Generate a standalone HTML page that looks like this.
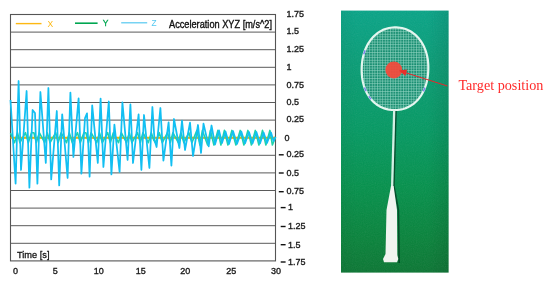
<!DOCTYPE html>
<html><head><meta charset="utf-8"><title>Figure</title>
<style>
html,body{margin:0;padding:0;background:#fff;}
body{width:550px;height:281px;overflow:hidden;}
svg{display:block;}
text{font-family:"Liberation Sans",sans-serif;}
.ax{font-size:9px;fill:#1a1a1a;stroke:#1a1a1a;stroke-width:0.35;}
.tp{font-family:"Liberation Serif",serif;font-size:14px;fill:#ff2a2a;}
</style></head><body>
<svg width="550" height="281" viewBox="0 0 550 281">
<defs>
<linearGradient id="gg" x1="0" y1="0" x2="0" y2="1">
<stop offset="0" stop-color="#08a487"/><stop offset="0.2" stop-color="#089d76"/><stop offset="0.46" stop-color="#049962"/><stop offset="0.67" stop-color="#04914c"/><stop offset="0.88" stop-color="#08823a"/><stop offset="1" stop-color="#0a7633"/>
</linearGradient>
<linearGradient id="vg" x1="0" y1="0" x2="1" y2="0">
<stop offset="0" stop-color="#000" stop-opacity="0.03"/><stop offset="0.15" stop-color="#000" stop-opacity="0"/><stop offset="0.8" stop-color="#000" stop-opacity="0"/><stop offset="1" stop-color="#000" stop-opacity="0.09"/>
</linearGradient>
<filter id="felt" x="0" y="0" width="100%" height="100%"><feTurbulence type="fractalNoise" baseFrequency="0.9" numOctaves="2" seed="3"/><feColorMatrix type="saturate" values="0"/></filter>
<pattern id="strings" width="2.6" height="2.6" patternUnits="userSpaceOnUse">
<rect width="2.6" height="2.6" fill="#178d70"/>
<path d="M0,0.5H2.6M0.5,0V2.6" stroke="#93d6c3" stroke-width="0.58"/>
</pattern>
</defs>
<rect width="550" height="281" fill="#fff"/>

<line x1="10.5" x2="275.5" y1="32.1" y2="32.1" stroke="#5a5a5a" stroke-width="1"/>
<line x1="10.5" x2="275.5" y1="49.7" y2="49.7" stroke="#5a5a5a" stroke-width="1"/>
<line x1="10.5" x2="275.5" y1="67.3" y2="67.3" stroke="#5a5a5a" stroke-width="1"/>
<line x1="10.5" x2="275.5" y1="84.9" y2="84.9" stroke="#5a5a5a" stroke-width="1"/>
<line x1="10.5" x2="275.5" y1="102.5" y2="102.5" stroke="#5a5a5a" stroke-width="1"/>
<line x1="10.5" x2="275.5" y1="120.1" y2="120.1" stroke="#5a5a5a" stroke-width="1"/>
<line x1="10.5" x2="275.5" y1="137.7" y2="137.7" stroke="#5a5a5a" stroke-width="1"/>
<line x1="10.5" x2="275.5" y1="155.3" y2="155.3" stroke="#5a5a5a" stroke-width="1"/>
<line x1="10.5" x2="275.5" y1="172.9" y2="172.9" stroke="#5a5a5a" stroke-width="1"/>
<line x1="10.5" x2="275.5" y1="190.5" y2="190.5" stroke="#5a5a5a" stroke-width="1"/>
<line x1="10.5" x2="275.5" y1="208.1" y2="208.1" stroke="#5a5a5a" stroke-width="1"/>
<line x1="10.5" x2="275.5" y1="225.7" y2="225.7" stroke="#5a5a5a" stroke-width="1"/>
<line x1="10.5" x2="275.5" y1="243.3" y2="243.3" stroke="#5a5a5a" stroke-width="1"/>
<rect x="10.5" y="14.5" width="265" height="246.4" fill="none" stroke="#555" stroke-width="1.1"/>
<line x1="10.5" x2="275.5" y1="137.7" y2="137.7" stroke="#f5b000" stroke-width="2"/>
<path d="M10.5,133 L14.5,142.7 L17.5,132.7 L19.9,142.7 L25.5,132.7 L28.3,142.7 L31.5,132.7 L33.9,132.7 L36.3,142.7 L39.3,132.7 L44.7,142.7 L47.3,132.7 L50.1,142.7 L55.7,132.7 L58.1,142.7 L61.1,132.7 L66.5,142.7 L69.3,132.7 L72.3,142.7 L77.5,132.7 L80.3,142.7 L83.9,132.7 L85.9,132.7 L88.5,142.7 L91.1,132.7 L96.7,142.7 L99.5,132.7 L102.3,142.7 L107.7,132.7 L110.3,142.7 L113.3,132.7 L118.5,142.7 L121.3,132.7 L126.5,142.7 L129.3,132.7 L131.9,142.7 L137.5,132.7 L140.3,142.7 L142.9,132.7 L148.3,142.7 L151.3,132.7 L153.7,140.0 L155.5,142.7 L159.3,132.7 L162.3,142.7 L167.5,132.7 L170.3,142.7 L172.9,132.7 L178.3,142.7 L180.9,132.7 L183.9,142.7 L188.9,132.7 L191.9,142.7 L196.9,130.4 L199.9,145.0 L202.4,130.4 L207.6,145.0 L210.4,130.4 L213.9,145.0 L217.9,130.4 L220.9,145.0 L224.4,130.4 L227.9,145.0 L231.9,130.4 L235.9,145.0 L240.2,130.4 L243.9,145.0 L247.9,130.4 L251.4,145.0 L255.3,130.4 L258.9,145.0 L262.5,130.4 L265.9,145.0 L269.9,130.4 L272.4,145.0 L275.5,137" fill="none" stroke="#1fd3aa" stroke-width="1.6" stroke-linejoin="round"/>
<path d="M10.5,100 L15.6,183.6 L18.6,81 L21,170 L26.6,91 L29.4,187.6 L32.6,110 L35,113 L37.4,183.6 L40.4,92 L45.8,163 L48.4,88 L51.2,179.4 L56.8,111 L59.2,185.4 L62.2,114.4 L67.6,178 L70.4,92.6 L73.4,157 L78.6,98.4 L81.4,173.6 L85,118 L87,113.4 L89.6,176.6 L92.2,105.4 L97.8,163 L100.6,98.6 L103.4,167 L108.8,101.5 L111.4,174.4 L114.4,124.6 L119.6,172 L122.4,102.4 L127.6,160 L130.4,104.4 L133,163 L138.6,114.4 L141.4,170 L144,115 L149.4,168 L152.4,107 L154.5,140 L156.6,147 L160.4,108 L163.4,160.6 L168.6,122.4 L171.4,165.6 L174,119 L179.4,148 L182,120.6 L185,150 L190,122.6 L193,156 L198,125 L201,153 L203.5,123.6 L208.7,146.4 L211.5,125.5 L215,144.5 L219,130.4 L222,143 L225.5,131.5 L229,144 L233,131 L237,144 L241.3,131.5 L245,143.5 L249,132 L252.5,143.5 L256.4,132 L260,143.5 L263.6,132.5 L267,143 L271,132.5 L273.5,141 L275.5,137" fill="none" stroke="#12bff2" stroke-width="1.75" stroke-linejoin="round"/>
<line x1="15.8" x2="41.5" y1="23.6" y2="23.6" stroke="#fdb813" stroke-width="1.4"/>
<text x="47.5" y="27.3" font-size="8.5" fill="#fdb813">X</text>
<line x1="75" x2="97.6" y1="23.2" y2="23.2" stroke="#00a651" stroke-width="1.6"/>
<text x="102.8" y="26" font-size="8.5" fill="#00a651" stroke="#00a651" stroke-width="0.3">Y</text>
<line x1="121.2" x2="147.2" y1="22.8" y2="22.8" stroke="#55c8f0" stroke-width="1.2"/>
<text x="151.6" y="26.2" font-size="8.3" fill="#55c8f0">Z</text>
<text x="169" y="27.5" font-size="10" fill="#111" stroke="#111" stroke-width="0.35" textLength="103" lengthAdjust="spacingAndGlyphs">Acceleration XYZ [m/s^2]</text>
<text x="17" y="258.3" font-size="9.6" fill="#111" stroke="#111" stroke-width="0.3" textLength="32.5" lengthAdjust="spacingAndGlyphs">Time [s]</text>
<text class="ax" x="286.5" y="16.50">1.75</text>
<text class="ax" x="286.5" y="34.35">1.5</text>
<text class="ax" x="286.5" y="52.15">1.25</text>
<text class="ax" x="286.5" y="70.45">1</text>
<text class="ax" x="286.5" y="87.55">0.75</text>
<text class="ax" x="286.5" y="104.75">0.5</text>
<text class="ax" x="286.5" y="121.55">0.25</text>
<text class="ax" x="284.4" y="141.45">0</text>
<text class="ax" x="286.5" y="157.45">0.25</text>
<rect x="278.8" y="154.1" width="4.9" height="1.4" fill="#111"/>
<text class="ax" x="286.5" y="175.95">0.5</text>
<rect x="278.8" y="172.3" width="4.9" height="1.4" fill="#111"/>
<text class="ax" x="286.5" y="193.85">0.75</text>
<rect x="278.8" y="191.0" width="4.9" height="1.4" fill="#111"/>
<text class="ax" x="288" y="210.45">1</text>
<rect x="280.7" y="206.9" width="4.9" height="1.4" fill="#111"/>
<text class="ax" x="288" y="229.45">1.25</text>
<rect x="280.7" y="225.8" width="4.9" height="1.4" fill="#111"/>
<text class="ax" x="288" y="247.65">1.5</text>
<rect x="280.7" y="244.0" width="4.9" height="1.4" fill="#111"/>
<text class="ax" x="288" y="264.55">1.75</text>
<rect x="280.7" y="261.3" width="4.9" height="1.4" fill="#111"/>
<text class="ax" x="15.5" y="273.9" text-anchor="middle">0</text>
<text class="ax" x="55.3" y="273.9" text-anchor="middle">5</text>
<text class="ax" x="98.8" y="273.9" text-anchor="middle">10</text>
<text class="ax" x="140.8" y="273.9" text-anchor="middle">15</text>
<text class="ax" x="185.3" y="273.9" text-anchor="middle">20</text>
<text class="ax" x="231.2" y="273.9" text-anchor="middle">25</text>
<text class="ax" x="276" y="273.9" text-anchor="middle">30</text>
<rect x="341" y="10.6" width="107.6" height="262" fill="url(#gg)"/>
<rect x="341" y="10.6" width="107.6" height="262" fill="url(#vg)"/>
<rect x="341" y="10.6" width="107.6" height="262" filter="url(#felt)" opacity="0.10"/>
<path d="M396,111 L393.9,186 L398.4,210 L399.2,263" fill="none" stroke="#043f24" stroke-width="1.6" opacity="0.8"/>
<path d="M428.28,69.8 L428.15,72.46 L427.94,74.85 L427.66,77.14 L427.29,79.36 L426.84,81.51 L426.3,83.6 L425.69,85.63 L425.0,87.59 L424.24,89.49 L423.39,91.33 L422.48,93.09 L421.49,94.79 L420.43,96.4 L419.31,97.94 L418.12,99.4 L416.86,100.78 L415.55,102.07 L414.18,103.26 L412.75,104.37 L411.27,105.39 L409.74,106.31 L408.15,107.13 L406.53,107.85 L404.86,108.47 L403.14,108.98 L401.38,109.39 L399.57,109.7 L397.71,109.9 L395.77,110.0 L393.63,109.98 L391.49,109.85 L389.57,109.63 L387.72,109.31 L385.94,108.88 L384.21,108.35 L382.53,107.72 L380.9,107.0 L379.33,106.17 L377.8,105.25 L376.34,104.23 L374.93,103.12 L373.57,101.92 L372.28,100.63 L371.06,99.26 L369.9,97.8 L368.81,96.27 L367.79,94.66 L366.84,92.97 L365.96,91.22 L365.17,89.4 L364.45,87.51 L363.81,85.56 L363.25,83.55 L362.78,81.49 L362.39,79.37 L362.08,77.19 L361.86,74.96 L361.72,72.65 L361.67,70.25 L361.72,67.6 L361.84,65.11 L362.05,62.8 L362.34,60.56 L362.72,58.37 L363.18,56.24 L363.72,54.16 L364.34,52.13 L365.05,50.16 L365.83,48.25 L366.69,46.41 L367.62,44.63 L368.63,42.91 L369.7,41.28 L370.85,39.71 L372.06,38.23 L373.33,36.84 L374.67,35.52 L376.06,34.3 L377.5,33.17 L378.99,32.14 L380.54,31.2 L382.13,30.36 L383.76,29.62 L385.43,28.99 L387.14,28.46 L388.88,28.03 L390.67,27.72 L392.49,27.51 L394.36,27.41 L396.37,27.42 L398.37,27.54 L400.24,27.77 L402.04,28.1 L403.8,28.53 L405.51,29.07 L407.18,29.71 L408.81,30.45 L410.39,31.3 L411.92,32.24 L413.39,33.28 L414.82,34.41 L416.18,35.63 L417.49,36.94 L418.73,38.34 L419.91,39.82 L421.02,41.38 L422.06,43.01 L423.02,44.72 L423.91,46.49 L424.73,48.33 L425.46,50.23 L426.12,52.19 L426.69,54.2 L427.18,56.26 L427.58,58.37 L427.9,60.53 L428.13,62.74 L428.27,64.99 L428.32,67.32Z" fill="url(#strings)"/>
<path d="M428.28,69.8 L428.15,72.46 L427.94,74.85 L427.66,77.14 L427.29,79.36 L426.84,81.51 L426.3,83.6 L425.69,85.63 L425.0,87.59 L424.24,89.49 L423.39,91.33 L422.48,93.09 L421.49,94.79 L420.43,96.4 L419.31,97.94 L418.12,99.4 L416.86,100.78 L415.55,102.07 L414.18,103.26 L412.75,104.37 L411.27,105.39 L409.74,106.31 L408.15,107.13 L406.53,107.85 L404.86,108.47 L403.14,108.98 L401.38,109.39 L399.57,109.7 L397.71,109.9 L395.77,110.0 L393.63,109.98 L391.49,109.85 L389.57,109.63 L387.72,109.31 L385.94,108.88 L384.21,108.35 L382.53,107.72 L380.9,107.0 L379.33,106.17 L377.8,105.25 L376.34,104.23 L374.93,103.12 L373.57,101.92 L372.28,100.63 L371.06,99.26 L369.9,97.8 L368.81,96.27 L367.79,94.66 L366.84,92.97 L365.96,91.22 L365.17,89.4 L364.45,87.51 L363.81,85.56 L363.25,83.55 L362.78,81.49 L362.39,79.37 L362.08,77.19 L361.86,74.96 L361.72,72.65 L361.67,70.25 L361.72,67.6 L361.84,65.11 L362.05,62.8 L362.34,60.56 L362.72,58.37 L363.18,56.24 L363.72,54.16 L364.34,52.13 L365.05,50.16 L365.83,48.25 L366.69,46.41 L367.62,44.63 L368.63,42.91 L369.7,41.28 L370.85,39.71 L372.06,38.23 L373.33,36.84 L374.67,35.52 L376.06,34.3 L377.5,33.17 L378.99,32.14 L380.54,31.2 L382.13,30.36 L383.76,29.62 L385.43,28.99 L387.14,28.46 L388.88,28.03 L390.67,27.72 L392.49,27.51 L394.36,27.41 L396.37,27.42 L398.37,27.54 L400.24,27.77 L402.04,28.1 L403.8,28.53 L405.51,29.07 L407.18,29.71 L408.81,30.45 L410.39,31.3 L411.92,32.24 L413.39,33.28 L414.82,34.41 L416.18,35.63 L417.49,36.94 L418.73,38.34 L419.91,39.82 L421.02,41.38 L422.06,43.01 L423.02,44.72 L423.91,46.49 L424.73,48.33 L425.46,50.23 L426.12,52.19 L426.69,54.2 L427.18,56.26 L427.58,58.37 L427.9,60.53 L428.13,62.74 L428.27,64.99 L428.32,67.32Z" fill="none" stroke="#e4f6ef" stroke-width="2.2" stroke-linejoin="round"/>
<line x1="365.96" y1="91.22" x2="364.45" y2="87.51" stroke="#7d86ea" stroke-width="1.5"/>
<line x1="371.06" y1="99.26" x2="368.81" y2="96.27" stroke="#7d86ea" stroke-width="1.5"/>
<line x1="425.0" y1="87.59" x2="423.39" y2="91.33" stroke="#7d86ea" stroke-width="1.5"/>
<line x1="363.72" y1="54.16" x2="365.05" y2="50.16" stroke="#7d86ea" stroke-width="1.5"/>
<path d="M394.2,110.5 L392.1,188" fill="none" stroke="#d4efe4" stroke-width="2.3"/>
<path d="M391,186 L393.6,186 L397,210 L397.3,255 L398.3,259 L397,262.3 L384,262.3 L383,259 L385.5,254 L386.5,210 Z" fill="#f1f4f0"/>
<circle cx="393.8" cy="70" r="8.4" fill="#f24b3c" opacity="0.95"/>
<line x1="447.5" y1="86" x2="404" y2="72.2" stroke="#e8262a" stroke-width="1"/>
<path d="M399,70.6 L407.2,69.6 L405.4,76 Z" fill="#e8302a"/>
<text class="tp" x="458.4" y="89.6" textLength="85" lengthAdjust="spacingAndGlyphs">Target position</text>
</svg></body></html>
